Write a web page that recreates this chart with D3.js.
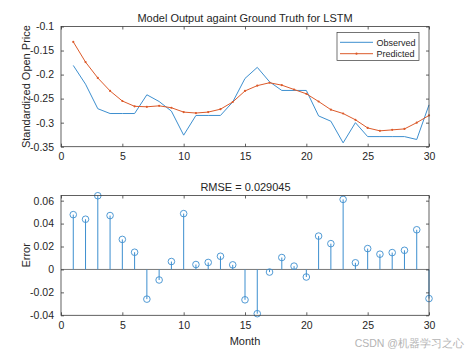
<!DOCTYPE html>
<html><head><meta charset="utf-8">
<script src="https://cdn.jsdelivr.net/npm/d3@7"></script>
<style>
html,body{margin:0;padding:0;background:#fff;}
svg text{font-family:"Liberation Sans",Arial,Helvetica,sans-serif;fill:#262626;}
</style></head>
<body><svg id="c" width="474" height="355"></svg>
<script>
const months = d3.range(1, 31);
const observed = [-0.181,-0.220,-0.271,-0.281,-0.281,-0.281,-0.242,-0.256,-0.276,-0.326,
  -0.285,-0.285,-0.285,-0.257,-0.208,-0.185,-0.215,-0.233,-0.233,-0.233,
  -0.286,-0.297,-0.342,-0.300,-0.329,-0.329,-0.329,-0.329,-0.335,-0.263];
const predicted = [-0.132,-0.174,-0.207,-0.234,-0.255,-0.266,-0.267,-0.265,-0.269,-0.278,
  -0.280,-0.278,-0.272,-0.257,-0.234,-0.223,-0.217,-0.222,-0.231,-0.240,
  -0.256,-0.273,-0.281,-0.294,-0.311,-0.317,-0.315,-0.313,-0.300,-0.285];
const errors = [0.0478,0.0438,0.0643,0.0470,0.0262,0.0150,-0.0259,-0.0092,0.0069,0.0487,
  0.0043,0.0061,0.0115,0.0040,-0.0265,-0.0386,-0.0023,0.0104,0.0029,-0.0066,
  0.0291,0.0225,0.0611,0.0058,0.0182,0.0133,0.0147,0.0167,0.0346,-0.0254];
const xTicks = [0,5,10,15,20,25,30];
const xTickLabels = ["0","5","10","15","20","25","30"];
const yTopTicks = [-0.35,-0.3,-0.25,-0.2,-0.15,-0.1];
const yTopTickLabels = ["-0.35","-0.3","-0.25","-0.2","-0.15","-0.1"];
const yBotTicks = [-0.04,-0.02,0,0.02,0.04,0.06];
const yBotTickLabels = ["-0.04","-0.02","0","0.02","0.04","0.06"];
const seriesNames = ["Observed","Predicted"];
const titleTop = "Model Output againt Ground Truth for LSTM";
const titleBot = "RMSE = 0.029045";

const svg = d3.select("#c");
const BLUE = "#3d8fcf", ORANGE = "#dc5a2a", AX = "#3a3a3a";
const L = 61, R = 429;
const x = d3.scaleLinear().domain([0,30]).range([L,R]);

function drawAxes(y, yTicks, yLabels, top, bottom) {
  const g = svg.append("g");
  const fx = d => xTickLabels[xTicks.indexOf(d)];
  const fy = d => yLabels[yTicks.indexOf(d)];
  const style = sel => { sel.select(".domain").remove(); sel.selectAll("line").attr("stroke", AX).attr("stroke-width", 0.8); sel.selectAll("text").attr("font-size", 10.5).attr("fill", "#262626"); };
  g.append("g").attr("transform", `translate(0,${bottom})`)
    .call(d3.axisBottom(x).tickValues(xTicks).tickFormat(fx).tickSizeInner(-3).tickSizeOuter(0).tickPadding(6))
    .call(style);
  g.append("g").attr("transform", `translate(0,${top})`)
    .call(d3.axisTop(x).tickValues(xTicks).tickFormat("").tickSizeInner(-3).tickSizeOuter(0))
    .call(style);
  g.append("g").attr("transform", `translate(${L},0)`)
    .call(d3.axisLeft(y).tickValues(yTicks).tickFormat(fy).tickSizeInner(-3).tickSizeOuter(0).tickPadding(7))
    .call(style);
  g.append("g").attr("transform", `translate(${R},0)`)
    .call(d3.axisRight(y).tickValues(yTicks).tickFormat("").tickSizeInner(-3).tickSizeOuter(0))
    .call(style);
  g.append("rect").attr("x", L).attr("y", top).attr("width", R - L).attr("height", bottom - top)
    .attr("fill", "none").attr("stroke", AX).attr("stroke-width", 0.8);
}

// ---- top panel ----
const T1 = 26.5, B1 = 146.7;
const y1 = d3.scaleLinear().domain([-0.35,-0.1]).range([B1,T1]);
const line1 = d3.line().x((d,i) => x(months[i])).y(d => y1(d));
svg.append("path").datum(observed).attr("d", line1).attr("fill","none").attr("stroke",BLUE).attr("stroke-width",1);
svg.append("path").datum(predicted).attr("d", line1).attr("fill","none").attr("stroke",ORANGE).attr("stroke-width",1);
svg.append("g").selectAll("circle").data(predicted).join("circle")
  .attr("cx",(d,i)=>x(months[i])).attr("cy",d=>y1(d)).attr("r",1.1).attr("fill",ORANGE);
drawAxes(y1, yTopTicks, yTopTickLabels, T1, B1);
svg.append("text").attr("x",245).attr("y",22).attr("text-anchor","middle").attr("font-size",11).text(titleTop);
svg.append("text").attr("transform",`translate(30,${(T1+B1)/2}) rotate(-90)`).attr("text-anchor","middle").attr("font-size",11).text("Standardized Open Price");

// legend
const lg = svg.append("g");
lg.append("rect").attr("x",337).attr("y",32.5).attr("width",82).attr("height",28).attr("fill","#fff").attr("stroke",AX).attr("stroke-width",0.7);
[BLUE, ORANGE].forEach((c,i) => {
  const yy = 42.3 + i*11.4;
  lg.append("line").attr("x1",340).attr("x2",373).attr("y1",yy).attr("y2",yy).attr("stroke",c).attr("stroke-width",1);
  if (i===1) lg.append("circle").attr("cx",356.5).attr("cy",yy).attr("r",1.1).attr("fill",c);
  lg.append("text").attr("x",376.5).attr("y",yy+3.2).attr("font-size",9).text(seriesNames[i]);
});

// ---- bottom panel ----
const T2 = 195.5, B2 = 315.3;
const y2 = d3.scaleLinear().domain([-0.04,0.0645]).range([B2,T2]);
svg.append("line").attr("x1",L).attr("x2",R).attr("y1",y2(0)).attr("y2",y2(0)).attr("stroke","#555").attr("stroke-width",0.8);
const sg = svg.append("g");
sg.selectAll("line").data(errors).join("line")
  .attr("x1",(d,i)=>x(months[i])).attr("x2",(d,i)=>x(months[i]))
  .attr("y1",y2(0)).attr("y2",d=>y2(d)).attr("stroke",BLUE).attr("stroke-width",1);
sg.selectAll("circle").data(errors).join("circle")
  .attr("cx",(d,i)=>x(months[i])).attr("cy",d=>y2(d)).attr("r",3.3)
  .attr("fill","none").attr("stroke",BLUE).attr("stroke-width",0.9);
drawAxes(y2, yBotTicks, yBotTickLabels, T2, B2);
svg.append("text").attr("x",245.5).attr("y",190.5).attr("text-anchor","middle").attr("font-size",11).text(titleBot);
svg.append("text").attr("transform",`translate(30,${(T2+B2)/2}) rotate(-90)`).attr("text-anchor","middle").attr("font-size",11).text("Error");
svg.append("text").attr("x",245).attr("y",345).attr("text-anchor","middle").attr("font-size",11).text("Month");

// watermark
svg.append("text").attr("x",464).attr("y",347).attr("text-anchor","end").attr("font-size",10.5)
  .style("fill","#b4b4b4").attr("font-family","'Noto Sans CJK SC','Liberation Sans',sans-serif").text("CSDN @机器学习之心");
</script></body></html>
